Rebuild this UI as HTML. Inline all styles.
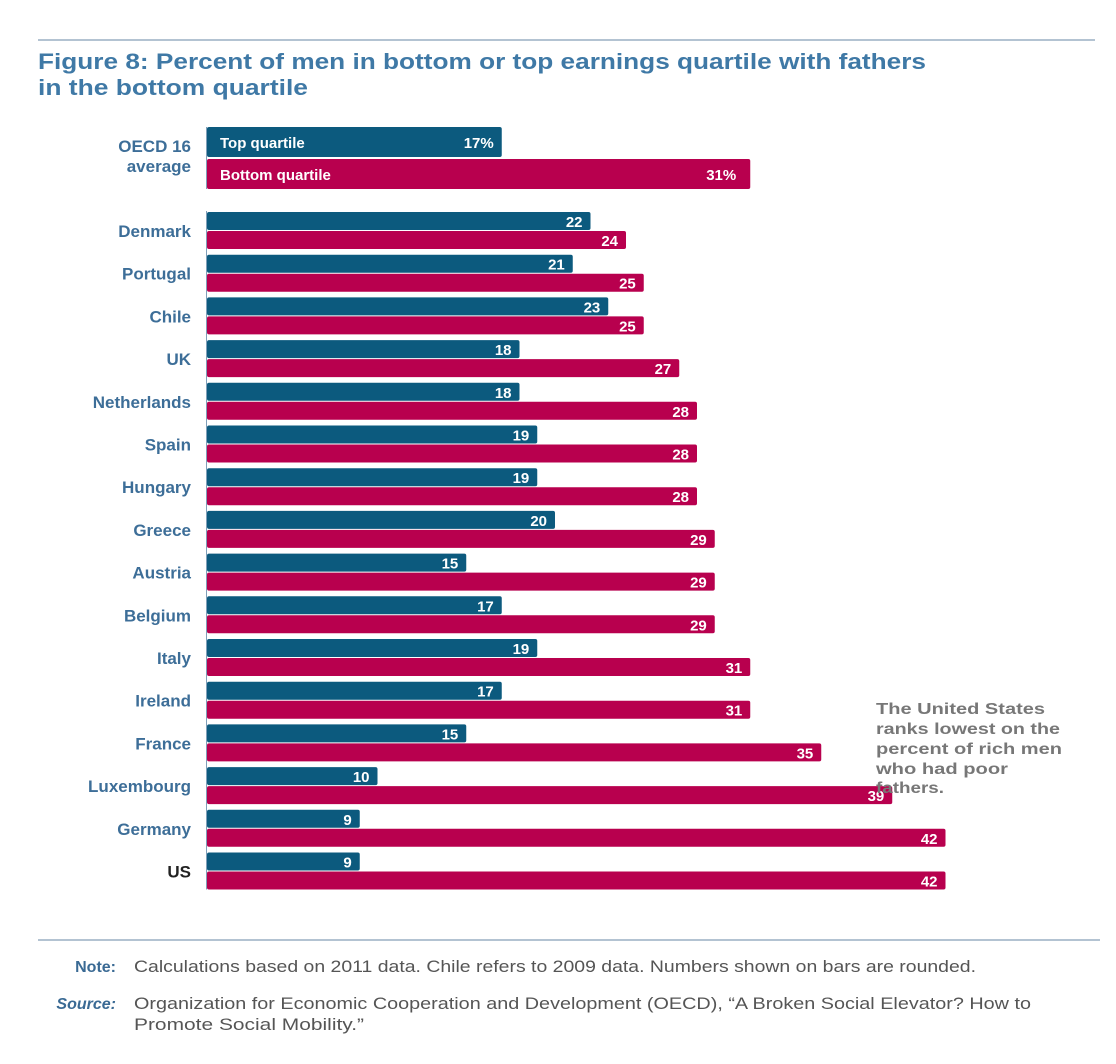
<!DOCTYPE html>
<html><head><meta charset="utf-8"><style>
body{margin:0;background:#fff;width:1116px;height:1064px;overflow:hidden;font-family:"Liberation Sans",sans-serif}
svg{display:block}
</style></head><body>
<svg id="chart" width="1116" height="1064">
<line x1="38" y1="40" x2="1095" y2="40" stroke="#b3c3d2" stroke-width="2"/>
<text x="38" y="69" font-size="22" font-weight="bold" fill="#3f79a6" textLength="888" lengthAdjust="spacingAndGlyphs">Figure 8: Percent of men in bottom or top earnings quartile with fathers</text>
<text x="38" y="95" font-size="22" font-weight="bold" fill="#3f79a6" textLength="270" lengthAdjust="spacingAndGlyphs">in the bottom quartile</text>
<g id="avg"></g>
<g id="bars"></g>
<g font-size="16" font-weight="bold" fill="#777">
<text x="876" y="714" textLength="169" lengthAdjust="spacingAndGlyphs">The United States</text>
<text x="876" y="734" textLength="184" lengthAdjust="spacingAndGlyphs">ranks lowest on the</text>
<text x="876" y="754" textLength="186" lengthAdjust="spacingAndGlyphs">percent of rich men</text>
<text x="876" y="774" textLength="132" lengthAdjust="spacingAndGlyphs">who had poor</text>
<text x="876" y="793" textLength="68" lengthAdjust="spacingAndGlyphs">fathers.</text>
</g>
<line x1="38" y1="940" x2="1100" y2="940" stroke="#b3c3d2" stroke-width="2"/>
<text x="116" y="972" font-size="16" font-weight="bold" fill="#3a6a94" text-anchor="end">Note:</text>
<text x="134" y="972" font-size="17" fill="#555" textLength="842" lengthAdjust="spacingAndGlyphs">Calculations based on 2011 data. Chile refers to 2009 data. Numbers shown on bars are rounded.</text>
<text x="116" y="1009" font-size="16" font-weight="bold" font-style="italic" fill="#3a6a94" text-anchor="end">Source:</text>
<text x="134" y="1009" font-size="17" fill="#555" textLength="897" lengthAdjust="spacingAndGlyphs">Organization for Economic Cooperation and Development (OECD), “A Broken Social Elevator? How to</text>
<text x="134" y="1030" font-size="17" fill="#555" textLength="230" lengthAdjust="spacingAndGlyphs">Promote Social Mobility.”</text>
</svg>
<script>
const countries=["Denmark","Portugal","Chile","UK","Netherlands","Spain","Hungary","Greece","Austria","Belgium","Italy","Ireland","France","Luxembourg","Germany","US"];
const topQuartile=[22,21,23,18,18,19,19,20,15,17,19,17,15,10,9,9];
const bottomQuartile=[24,25,25,27,28,28,28,29,29,29,31,31,35,39,42,42];
const avgTop=17;
const avgBottom=31;
const NS="http://www.w3.org/2000/svg";
const X0=207,XZ=200,K=17.75;
const x=v=>XZ+v*K;
const rowY=i=>212+i*42.7;
function mk(tag,attrs,parent,text){const e=document.createElementNS(NS,tag);for(const k in attrs)e.setAttribute(k,attrs[k]);if(text!==undefined)e.textContent=text;parent.appendChild(e);return e;}
const BLUE="#0c5a7e",RED="#b8004e",LAB="#3d6e98";
const g=document.getElementById('bars');
const ga=document.getElementById('avg');
let r=mk('rect',{x:X0,y:127,width:x(avgTop)-X0,height:30,rx:2,fill:BLUE},ga);


r=mk('rect',{x:X0,y:159,width:x(avgBottom)-X0,height:30,rx:2,fill:RED},ga);


let t=mk('text',{x:220,y:148,'font-size':15,'font-weight':'bold',fill:'#fff'},ga,'Top quartile');


t=mk('text',{x:220,y:180,'font-size':15,'font-weight':'bold',fill:'#fff'},ga,'Bottom quartile');


t=mk('text',{x:x(avgTop)-8,y:148,'font-size':15,'font-weight':'bold',fill:'#fff','text-anchor':'end'},ga,avgTop+'%');


t=mk('text',{x:x(avgBottom)-14,y:180,'font-size':15,'font-weight':'bold',fill:'#fff','text-anchor':'end'},ga,avgBottom+'%');


t=mk('text',{x:191,y:152,'font-size':17,'font-weight':'bold',fill:LAB,'text-anchor':'end'},ga,'OECD 16');


t=mk('text',{x:191,y:172,'font-size':17,'font-weight':'bold',fill:LAB,'text-anchor':'end'},ga,'average');


let ax=mk('line',{x1:206.5,y1:127,x2:206.5,y2:189,stroke:'#7f9fb9','stroke-width':1},ga);


countries.forEach((c,i)=>{
  const y=rowY(i);
  let b=mk('rect',{x:X0,y:y,width:x(topQuartile[i])-X0,height:18,rx:2,fill:BLUE},g);
  
  
  b=mk('rect',{x:X0,y:y+19,width:x(bottomQuartile[i])-X0,height:18,rx:2,fill:RED},g);
  
  
  let v=mk('text',{x:x(topQuartile[i])-8,y:y+15,'font-size':15,'font-weight':'bold',fill:'#fff','text-anchor':'end'},g,topQuartile[i]);
  
  
  v=mk('text',{x:x(bottomQuartile[i])-8,y:y+34,'font-size':15,'font-weight':'bold',fill:'#fff','text-anchor':'end'},g,bottomQuartile[i]);
  
  
  const l=mk('text',{x:191,y:y+25,'font-size':17,'font-weight':'bold',fill:c==='US'?'#222':LAB,'text-anchor':'end'},g,c);
  
  
});
const a=mk('line',{x1:206.5,y1:211,x2:206.5,y2:rowY(countries.length-1)+37,stroke:'#7f9fb9','stroke-width':1},g);


</script>
</body></html>
